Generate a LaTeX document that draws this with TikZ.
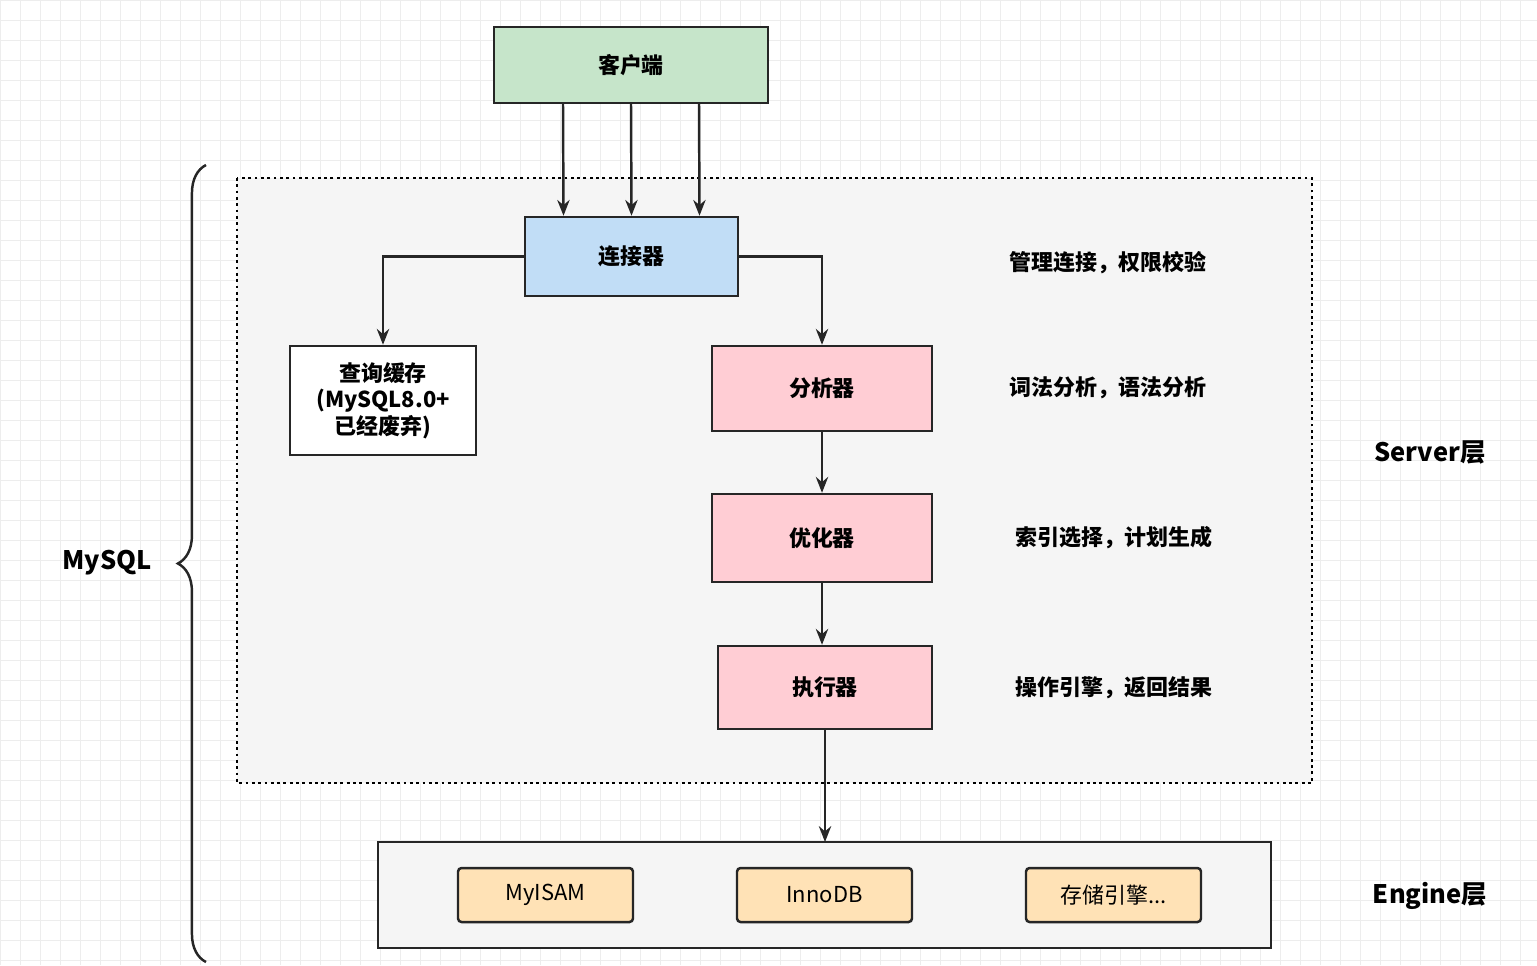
\documentclass[tikz,border=0pt]{standalone}
\usepackage{fontspec}
\setmainfont{Noto Sans CJK SC}
\usetikzlibrary{positioning,decorations.pathreplacing,arrows.meta}
\definecolor{clientgreen}{HTML}{C6E5CA}
\definecolor{connblue}{HTML}{C1DDF6}
\definecolor{stagepink}{HTML}{FFCDD4}
\definecolor{engorange}{HTML}{FFE2B6}
\definecolor{areagray}{HTML}{F5F5F5}
\tikzset{
  box/.style={draw=black!85, line width=1.4pt, inner sep=0pt, font=\fontsize{12.5}{15}\selectfont\bfseries},
  eng/.style={draw=black!85, line width=1.4pt, rounded corners=2pt, fill=engorange, inner sep=0pt, font=\fontsize{12.5}{15}\selectfont},
  note/.style={font=\fontsize{12.5}{15}\selectfont\bfseries},
  flow/.style={-{Stealth[length=9pt,width=7pt]}, line width=1.4pt, black!85}
}
\begin{document}
\begin{tikzpicture}[x=0.02cm,y=-0.02cm]
  \useasboundingbox (0,0) rectangle (1537,965);
  % background grid
  \foreach \gx in {0,20,...,1540}
    \draw [black!7, line width=0.5pt] (\gx,0) -- (\gx,965);
  \foreach \gy in {0,20,...,960}
    \draw [black!7, line width=0.5pt] (0,\gy) -- (1537,\gy);
  % areas
  \draw [dotted, line width=1.6pt, fill=areagray] (237,178) rectangle (1312,783);
  \draw [line width=1.4pt, black!85, fill=areagray] (378,842) rectangle (1271,948);
  % nodes
  \node [box, fill=clientgreen, minimum width=274*0.02cm, minimum height=76*0.02cm] (client) at (631,65) {客户端};
  \node [box, fill=connblue, minimum width=213*0.02cm, minimum height=79*0.02cm] (conn) at (631.5,256.5) {连接器};
  \node [box, fill=white, minimum width=186*0.02cm, minimum height=109*0.02cm, align=center] (cache) at (383,400.5) {查询缓存\\(MySQL8.0+\\已经废弃)};
  \node [box, fill=stagepink, minimum width=220*0.02cm, minimum height=85*0.02cm] (parser) at (822,388.5) {分析器};
  \node [box, fill=stagepink, minimum width=220*0.02cm, minimum height=88*0.02cm] (optim) at (822,538) {优化器};
  \node [box, fill=stagepink, minimum width=214*0.02cm, minimum height=83*0.02cm] (exec) at (825,687.5) {执行器};
  \node [eng, minimum width=175*0.02cm, minimum height=54*0.02cm] (myisam) at (545.5,895) {MyISAM};
  \node [eng, minimum width=175*0.02cm, minimum height=54*0.02cm] (innodb) at (824.5,895) {InnoDB};
  \node [eng, minimum width=175*0.02cm, minimum height=54*0.02cm] (other) at (1113.5,895) {存储引擎...};
  \coordinate (engtop) at (825,842);
  % notes
  \node [note] (n1) at (1108,263) {管理连接，权限校验};
  \node [note] (n2) at (1108,388) {词法分析，语法分析};
  \node [note] (n3) at (1114,538) {索引选择，计划生成};
  \node [note] (n4) at (1114,688) {操作引擎，返回结果};
  \node [note, font=\fontsize{14.5}{17}\selectfont\bfseries] (server) at (1430,452) {Server层};
  \node [note, font=\fontsize{14.5}{17}\selectfont\bfseries] (engine) at (1430,896) {Engine层};
  \node [note, font=\fontsize{14.5}{17}\selectfont\bfseries] (mysql) at (107,563) {MySQL};
  % brace
  \draw [decorate, decoration={brace, amplitude=16pt}, line width=1.4pt, black!85] (206,962) -- (206,165);
  % arrows
  \foreach \dx in {-68,0,68}
    \draw [flow] ([xshift=\dx*0.02cm]client.south) -- ([xshift=\dx*0.02cm]conn.north);
  \draw [flow] (conn.west) -| (cache.north);
  \draw [flow] (conn.east) -| (parser.north);
  \draw [flow] (parser) -- (optim);
  \draw [flow] (optim.south) -- (optim.south |- exec.north);
  \draw [flow] (exec) -- (engtop);
\end{tikzpicture}
\end{document}
